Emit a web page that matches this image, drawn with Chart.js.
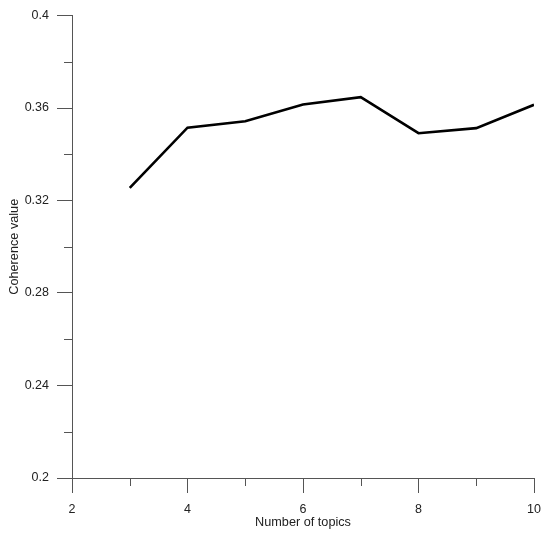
<!DOCTYPE html>
<html>
<head>
<meta charset="utf-8">
<script src="https://cdn.jsdelivr.net/npm/chart.js@4.4.1/dist/chart.umd.min.js"></script>
<style>
  html, body { margin: 0; padding: 0; background: #fff; }
  #wrap { width: 550px; height: 536px; position: relative; }
</style>
</head>
<body>
<div id="wrap"><canvas id="lineChart"></canvas></div>
<script>
const topics = [3, 4, 5, 6, 7, 8, 9, 10];
const coherence = [0.3255, 0.3515, 0.3543, 0.3615, 0.3647, 0.3491, 0.3513, 0.3614];

const xMajorTicks = [2, 4, 6, 8, 10];
const xMinorTicks = [3, 5, 7, 9];
const yMajorTicks = [0.2, 0.24, 0.28, 0.32, 0.36, 0.4];
const yMinorTicks = [0.22, 0.26, 0.3, 0.34, 0.38];

const axisColor = "#555";
const textColor = "#222";
const fontFamily = "'Liberation Sans', Arial, sans-serif";

// short ticks between the labelled ones
const minorTicks = {
  id: "minorTicks",
  afterDraw(chart) {
    const c = chart.ctx;
    const xs = chart.scales.x;
    const ys = chart.scales.y;
    c.save();
    c.strokeStyle = axisColor;
    c.lineWidth = 1;
    c.beginPath();
    xMinorTicks.forEach((v) => {
      const px = Math.round(xs.getPixelForValue(v)) + 0.5;
      c.moveTo(px, xs.top);
      c.lineTo(px, xs.top + 8);
    });
    yMinorTicks.forEach((v) => {
      const py = Math.round(ys.getPixelForValue(v)) + 0.5;
      c.moveTo(ys.right, py);
      c.lineTo(ys.right - 8, py);
    });
    c.stroke();
    c.restore();
  },
};

const ctx = document.getElementById("lineChart").getContext("2d");

const myChart = new Chart(ctx, {
  type: "line",
  data: {
    datasets: [
      {
        data: topics.map((t, i) => ({ x: t, y: coherence[i] })),
        borderColor: "#000",
        borderWidth: 2.6,
        pointRadius: 0,
        tension: 0,
        fill: false,
      },
    ],
  },
  options: {
    responsive: true,
    maintainAspectRatio: false,
    animation: false,
    layout: {
      padding: { top: 15, right: 16, left: 0, bottom: 0 },
    },
    scales: {
      x: {
        type: "linear",
        min: 2,
        max: 10,
        afterBuildTicks: (scale) => {
          scale.ticks = xMajorTicks.map((v) => ({ value: v }));
        },
        afterFit: (scale) => {
          scale.height = 58;
        },
        border: { display: true, color: axisColor, width: 1 },
        grid: {
          display: true,
          drawOnChartArea: false,
          drawTicks: true,
          tickLength: 15,
          tickColor: axisColor,
        },
        ticks: {
          color: textColor,
          padding: 9,
          maxRotation: 0,
          font: { family: fontFamily, size: 12.5 },
        },
        title: {
          display: true,
          text: "Number of topics",
          color: textColor,
          font: { family: fontFamily, size: 12.7 },
          padding: { top: 0, bottom: 6 },
        },
      },
      y: {
        type: "linear",
        min: 0.2,
        max: 0.4,
        afterBuildTicks: (scale) => {
          scale.ticks = yMajorTicks.map((v) => ({ value: v }));
        },
        afterFit: (scale) => {
          scale.width = 72;
        },
        border: { display: true, color: axisColor, width: 1 },
        grid: {
          display: true,
          drawOnChartArea: false,
          drawTicks: true,
          tickLength: 15,
          tickColor: axisColor,
        },
        ticks: {
          color: textColor,
          padding: 8,
          font: { family: fontFamily, size: 12.5 },
          callback: (v) => String(Number(v.toFixed(2))),
        },
        title: {
          display: true,
          text: "Coherence value",
          color: textColor,
          font: { family: fontFamily, size: 12.7 },
          padding: { top: 7, bottom: 0 },
        },
      },
    },
    plugins: {
      legend: { display: false },
      tooltip: { enabled: false },
    },
  },
  plugins: [minorTicks],
});
</script>
</body>
</html>
